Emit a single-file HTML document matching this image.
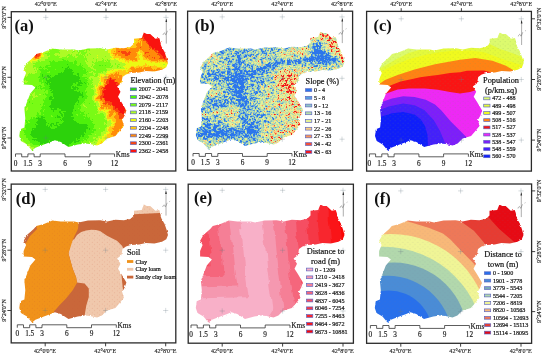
<!DOCTYPE html>
<html><head><meta charset="utf-8"><title>Figure</title>
<style>
html,body{margin:0;padding:0;background:#fff;}
svg{display:block;font-family:"Liberation Serif", "DejaVu Serif", serif;}
.c{font-size:6.1px;fill:#1c1c1c;stroke:#1c1c1c;stroke-width:0.14px;}
.l{font-size:6.1px;fill:#1a1a1a;stroke:#1a1a1a;stroke-width:0.22px;}
.t{font-size:8.3px;fill:#111;stroke:#111;stroke-width:0.2px;}
.p{font-size:16.5px;font-weight:bold;fill:#111;}
.s{font-size:7.3px;fill:#1a1a1a;stroke:#1a1a1a;stroke-width:0.15px;}
</style></head><body>
<svg width="543" height="354" viewBox="0 0 543 354">
<rect width="543" height="354" fill="#fff"/>
<defs>
<clipPath id="ol"><polygon points="12.6,56.8 15.9,50.9 22.7,45.0 25.3,41.9 32.9,39.9 41.4,36.5 49.8,37.4 63.4,37.4 67.6,38.5 77.0,36.5 89.2,36.2 96.0,37.4 104.4,35.7 112.9,36.2 119.7,34.8 123.0,31.4 123.0,26.7 130.7,26.0 132.9,20.4 135.8,22.1 139.2,22.1 144.3,26.7 148.2,26.0 149.3,28.9 150.2,34.0 153.6,39.9 155.6,45.8 157.0,50.9 155.3,55.2 151.0,57.7 143.4,59.4 134.9,58.9 128.2,60.6 119.7,61.1 115.0,62.5 111.5,65.0 110.4,71.3 106.1,74.6 109.5,79.7 107.0,84.8 110.4,89.9 115.4,98.4 113.7,103.5 111.2,107.9 112.9,113.8 108.7,118.9 104.4,124.0 96.0,126.5 90.9,131.6 86.0,133.5 79.0,132.0 73.6,131.6 66.8,132.4 57.5,135.0 49.8,129.9 43.9,128.2 39.7,129.9 32.9,132.4 24.4,135.8 21.0,138.4 16.0,132.4 10.0,129.0 8.3,124.0 9.2,117.2 13.4,115.5 14.3,106.2 13.4,96.7 16.0,89.9 19.3,81.4 24.4,75.5 21.0,73.0 12.6,72.6 12.6,67.0 15.1,61.1"/></clipPath>
<filter id="rag" filterUnits="userSpaceOnUse" x="0" y="0" width="170" height="165" color-interpolation-filters="sRGB"><feTurbulence type="fractalNoise" baseFrequency="0.55" numOctaves="1" seed="4" result="t"/><feDisplacementMap in="SourceGraphic" in2="t" scale="2.6" xChannelSelector="R" yChannelSelector="G"/></filter>
<mask id="om" maskUnits="userSpaceOnUse" x="0" y="0" width="170" height="165"><polygon points="12.6,56.8 15.9,50.9 22.7,45.0 25.3,41.9 32.9,39.9 41.4,36.5 49.8,37.4 63.4,37.4 67.6,38.5 77.0,36.5 89.2,36.2 96.0,37.4 104.4,35.7 112.9,36.2 119.7,34.8 123.0,31.4 123.0,26.7 130.7,26.0 132.9,20.4 135.8,22.1 139.2,22.1 144.3,26.7 148.2,26.0 149.3,28.9 150.2,34.0 153.6,39.9 155.6,45.8 157.0,50.9 155.3,55.2 151.0,57.7 143.4,59.4 134.9,58.9 128.2,60.6 119.7,61.1 115.0,62.5 111.5,65.0 110.4,71.3 106.1,74.6 109.5,79.7 107.0,84.8 110.4,89.9 115.4,98.4 113.7,103.5 111.2,107.9 112.9,113.8 108.7,118.9 104.4,124.0 96.0,126.5 90.9,131.6 86.0,133.5 79.0,132.0 73.6,131.6 66.8,132.4 57.5,135.0 49.8,129.9 43.9,128.2 39.7,129.9 32.9,132.4 24.4,135.8 21.0,138.4 16.0,132.4 10.0,129.0 8.3,124.0 9.2,117.2 13.4,115.5 14.3,106.2 13.4,96.7 16.0,89.9 19.3,81.4 24.4,75.5 21.0,73.0 12.6,72.6 12.6,67.0 15.1,61.1" fill="#fff" filter="url(#rag)"/></mask>
<pattern id="dots_d" width="5" height="4.4" patternUnits="userSpaceOnUse"><circle cx="1.2" cy="1.1" r="0.42" fill="rgba(200,70,50,0.38)"/><circle cx="3.7" cy="3.3" r="0.42" fill="rgba(200,70,50,0.38)"/></pattern><pattern id="dots_c" width="5" height="4.4" patternUnits="userSpaceOnUse"><circle cx="1.2" cy="1.1" r="0.42" fill="rgba(110,150,90,0.5)"/><circle cx="3.7" cy="3.3" r="0.42" fill="rgba(110,150,90,0.5)"/></pattern><pattern id="dots_f" width="5" height="4.4" patternUnits="userSpaceOnUse"><circle cx="1.2" cy="1.1" r="0.42" fill="rgba(120,110,150,0.3)"/><circle cx="3.7" cy="3.3" r="0.42" fill="rgba(120,110,150,0.3)"/></pattern>

<filter id="fa" filterUnits="userSpaceOnUse" x="0" y="0" width="170" height="165" color-interpolation-filters="sRGB"><feTurbulence type="fractalNoise" baseFrequency="0.08" numOctaves="3" seed="3" result="n0"/><feColorMatrix in="n0" type="matrix" values="1 0 0 0 0  1 0 0 0 0  1 0 0 0 0  0 0 0 0 1" result="g0"/><feComposite in="SourceGraphic" in2="g0" operator="arithmetic" k1="0" k2="1" k3="0.17" k4="-0.085" result="m0"/><feTurbulence type="fractalNoise" baseFrequency="0.45" numOctaves="2" seed="5" result="n1"/><feColorMatrix in="n1" type="matrix" values="1 0 0 0 0  1 0 0 0 0  1 0 0 0 0  0 0 0 0 1" result="g1"/><feComposite in="m0" in2="g1" operator="arithmetic" k1="0" k2="1" k3="0.1" k4="-0.05" result="m1"/><feComponentTransfer result="ct" in="m1"><feFuncR type="discrete" tableValues="0.176 0.176 0.306 0.478 0.686 0.922 1.000 1.000 0.980 0.980 0.980 0.980 0.980 0.980"/><feFuncG type="discrete" tableValues="0.824 0.824 0.949 0.988 0.988 0.980 0.784 0.549 0.275 0.078 0.078 0.078 0.078 0.078"/><feFuncB type="discrete" tableValues="0.047 0.047 0.047 0.086 0.149 0.078 0.078 0.039 0.059 0.059 0.059 0.059 0.059 0.059"/><feFuncA type="linear" slope="0" intercept="1"/></feComponentTransfer><feTurbulence type="fractalNoise" baseFrequency="0.5" numOctaves="2" seed="9" result="dn"/><feDisplacementMap in="ct" in2="dn" scale="3.5" xChannelSelector="R" yChannelSelector="G"/></filter>
<filter id="fb" filterUnits="userSpaceOnUse" x="0" y="0" width="170" height="165" color-interpolation-filters="sRGB"><feTurbulence type="fractalNoise" baseFrequency="0.62" numOctaves="1" seed="7" result="n0"/><feColorMatrix in="n0" type="matrix" values="1 0 0 0 0  1 0 0 0 0  1 0 0 0 0  0 0 0 0 1" result="g0"/><feComposite in="SourceGraphic" in2="g0" operator="arithmetic" k1="0" k2="1" k3="1.1" k4="-0.55" result="m0"/><feTurbulence type="fractalNoise" baseFrequency="0.3" numOctaves="2" seed="11" result="n1"/><feColorMatrix in="n1" type="matrix" values="1 0 0 0 0  1 0 0 0 0  1 0 0 0 0  0 0 0 0 1" result="g1"/><feComposite in="m0" in2="g1" operator="arithmetic" k1="0" k2="1" k3="0.9" k4="-0.45" result="m1"/><feComponentTransfer in="m1"><feFuncR type="discrete" tableValues="0.176 0.176 0.176 0.176 0.176 0.353 0.353 0.569 0.569 0.725 0.725 0.725 0.902 0.902 0.902 0.980 0.980 0.980 0.961 0.941"/><feFuncG type="discrete" tableValues="0.463 0.463 0.463 0.463 0.463 0.627 0.627 0.776 0.776 0.871 0.871 0.871 0.941 0.941 0.941 0.804 0.804 0.588 0.314 0.098"/><feFuncB type="discrete" tableValues="0.922 0.922 0.922 0.922 0.922 0.871 0.871 0.765 0.765 0.675 0.675 0.675 0.588 0.588 0.588 0.510 0.510 0.353 0.216 0.118"/><feFuncA type="linear" slope="0" intercept="1"/></feComponentTransfer><feGaussianBlur stdDeviation="0.45"/></filter>
<filter id="b07" filterUnits="userSpaceOnUse" x="-20" y="-20" width="210" height="200" color-interpolation-filters="sRGB"><feGaussianBlur stdDeviation="0.8"/></filter>
<filter id="b15" filterUnits="userSpaceOnUse" x="-20" y="-20" width="210" height="200" color-interpolation-filters="sRGB"><feGaussianBlur stdDeviation="1.5"/></filter>
<filter id="b2" filterUnits="userSpaceOnUse" x="-20" y="-20" width="210" height="200" color-interpolation-filters="sRGB"><feGaussianBlur stdDeviation="2"/></filter>
<filter id="b3" filterUnits="userSpaceOnUse" x="-20" y="-20" width="210" height="200" color-interpolation-filters="sRGB"><feGaussianBlur stdDeviation="3"/></filter>
<filter id="b5" filterUnits="userSpaceOnUse" x="-20" y="-20" width="210" height="200" color-interpolation-filters="sRGB"><feGaussianBlur stdDeviation="5"/></filter>
<filter id="b7" filterUnits="userSpaceOnUse" x="-20" y="-20" width="210" height="200" color-interpolation-filters="sRGB"><feGaussianBlur stdDeviation="7"/></filter>
<filter id="wig" filterUnits="userSpaceOnUse" x="0" y="0" width="170" height="165" color-interpolation-filters="sRGB"><feTurbulence type="fractalNoise" baseFrequency="0.07" numOctaves="3" seed="2" result="t"/><feDisplacementMap in="SourceGraphic" in2="t" scale="7" xChannelSelector="R" yChannelSelector="G"/></filter>
</defs>
<g transform="translate(11,12)" mask="url(#om)">
<g filter="url(#fa)">
<rect x="-10" y="-10" width="190" height="185" fill="rgb(68,68,68)"/>
<g filter="url(#b3)">
<polygon points="95.0,59.0 101.0,58.0 111.0,60.0 119.0,66.0 117.0,83.0 120.0,98.0 117.0,110.0 106.0,126.0 90.0,137.0 83.0,136.0 95.0,124.0 103.0,112.0 97.0,102.0 87.0,92.0 86.0,80.0 91.0,68.0" fill="rgb(128,128,128)"/>
<polygon points="99.0,34.0 123.0,33.0 123.0,24.0 134.0,17.0 153.0,23.0 163.0,52.0 149.0,66.0 119.0,64.0 111.0,54.0 101.0,48.0" fill="rgb(140,140,140)"/>
<polyline points="89.0,40.0 99.0,41.0" fill="none" stroke="rgb(92,92,92)" stroke-width="8" stroke-linejoin="round" stroke-linecap="round"/>
</g>
<g filter="url(#b3)">
<ellipse cx="27" cy="60" rx="7" ry="6" fill="rgb(82,82,82)"/>
<ellipse cx="35" cy="101" rx="10" ry="4" fill="rgb(79,79,79)"/>
<ellipse cx="79" cy="54" rx="8" ry="4" fill="rgb(79,79,79)"/>
<ellipse cx="82" cy="108" rx="6" ry="7" fill="rgb(79,79,79)"/>
<ellipse cx="73" cy="40" rx="16" ry="3" fill="rgb(79,79,79)"/>
<ellipse cx="19" cy="80" rx="4" ry="8" fill="rgb(79,79,79)"/>
<polyline points="12.0,60.0 16.0,50.0 23.0,44.0 33.0,39.0 47.0,37.0" fill="none" stroke="rgb(87,87,87)" stroke-width="3" stroke-linejoin="round" stroke-linecap="round"/>
<polyline points="12.0,67.0 12.5,58.0 15.5,51.5 21.0,46.5" fill="none" stroke="rgb(117,117,117)" stroke-width="3" stroke-linejoin="round" stroke-linecap="round"/>
<polyline points="25.0,45.0 31.0,44.0" fill="none" stroke="rgb(115,115,115)" stroke-width="5" stroke-linejoin="round" stroke-linecap="round"/>
<polyline points="11.0,122.0 9.0,130.0 17.0,138.0" fill="none" stroke="rgb(82,82,82)" stroke-width="3" stroke-linejoin="round" stroke-linecap="round"/>
<ellipse cx="19.5" cy="135.5" rx="3" ry="3" fill="rgb(112,112,112)"/>
<polyline points="114.0,102.0 113.0,112.0 107.0,121.0" fill="none" stroke="rgb(153,153,153)" stroke-width="4.5" stroke-linejoin="round" stroke-linecap="round"/>
<polyline points="107.0,121.0 98.0,130.0 88.0,136.0" fill="none" stroke="rgb(133,133,133)" stroke-width="4.5" stroke-linejoin="round" stroke-linecap="round"/>
<polyline points="117.0,61.0 149.0,60.0" fill="none" stroke="rgb(140,140,140)" stroke-width="4" stroke-linejoin="round" stroke-linecap="round"/>
<polyline points="103.0,50.0 115.0,52.0" fill="none" stroke="rgb(84,84,84)" stroke-width="8" stroke-linejoin="round" stroke-linecap="round"/>
</g>
<g filter="url(#b2)">
<polygon points="98.0,66.0 101.0,65.0 106.0,73.0 110.0,80.0 114.0,88.0 114.5,96.0 112.0,103.0 108.0,99.0 102.0,93.0 94.0,87.5 91.5,80.5 95.0,73.0" fill="rgb(204,204,204)"/>
<polygon points="131.0,23.0 133.0,18.0 139.0,21.0 150.0,25.0 153.0,36.0 158.0,48.0 156.0,51.0 151.0,44.0 146.0,38.0 140.0,35.0 136.0,30.0 131.0,26.0" fill="rgb(194,194,194)"/>
<polyline points="105.0,40.0 115.0,42.0" fill="none" stroke="rgb(158,158,158)" stroke-width="4" stroke-linejoin="round" stroke-linecap="round"/>
<polyline points="23.5,45.2 28.5,41.2" fill="none" stroke="rgb(242,242,242)" stroke-width="3.2" stroke-linejoin="round" stroke-linecap="round"/>
</g>
<g filter="url(#b3)">
<polygon points="27.0,52.0 45.0,48.0 59.0,47.0 73.0,56.0 79.0,72.0 75.0,88.0 73.0,100.0 81.0,110.0 79.0,122.0 67.0,134.0 53.0,139.0 33.0,134.0 17.0,128.0 16.0,116.0 25.0,104.0 29.0,90.0 25.0,74.0" fill="rgb(52,52,52)"/>
</g>
<g filter="url(#b3)">
<polygon points="54.3,53.6 56.0,60.7 68.8,64.5 70.0,68.4 59.9,73.4 58.6,78.5 68.8,79.8 68.8,86.0 63.7,92.5 61.2,98.9 62.4,109.0 73.9,111.6 77.7,115.4 71.3,121.8 66.3,125.6 59.9,132.0 57.3,135.8 54.8,137.0 51.0,132.0 44.6,126.9 34.4,129.4 24.3,125.6 17.9,123.0 20.5,116.7 29.4,111.6 37.0,112.9 40.8,116.7 47.2,114.2 53.5,109.0 54.3,98.9 51.0,96.3 44.6,97.6 40.8,95.0 39.5,90.0 43.4,86.2 42.0,78.5 39.5,73.4 39.0,67.0 42.0,64.5 47.2,63.3 51.0,59.5" fill="rgb(31,31,31)" stroke="rgb(31,31,31)" stroke-width="7" stroke-linejoin="round"/>
</g>
<g filter="url(#b07)">
<polygon points="54.3,53.6 56.0,60.7 68.8,64.5 70.0,68.4 59.9,73.4 58.6,78.5 68.8,79.8 68.8,86.0 63.7,92.5 61.2,98.9 62.4,109.0 73.9,111.6 77.7,115.4 71.3,121.8 66.3,125.6 59.9,132.0 57.3,135.8 54.8,137.0 51.0,132.0 44.6,126.9 34.4,129.4 24.3,125.6 17.9,123.0 20.5,116.7 29.4,111.6 37.0,112.9 40.8,116.7 47.2,114.2 53.5,109.0 54.3,98.9 51.0,96.3 44.6,97.6 40.8,95.0 39.5,90.0 43.4,86.2 42.0,78.5 39.5,73.4 39.0,67.0 42.0,64.5 47.2,63.3 51.0,59.5" fill="rgb(10,10,10)" stroke="rgb(51,51,51)" stroke-width="1.6" stroke-linejoin="round"/>
</g>
<g filter="url(#b15)">
<polyline points="99.0,78.0 92.0,76.0 86.0,77.0" fill="none" stroke="rgb(158,158,158)" stroke-width="2.6" stroke-linejoin="round" stroke-linecap="round"/>
<polyline points="99.0,84.0 91.0,85.0 84.0,87.0" fill="none" stroke="rgb(158,158,158)" stroke-width="2.6" stroke-linejoin="round" stroke-linecap="round"/>
<polyline points="101.0,90.0 94.0,93.0 89.0,97.0" fill="none" stroke="rgb(153,153,153)" stroke-width="2.6" stroke-linejoin="round" stroke-linecap="round"/>
<polyline points="98.0,72.0 93.0,68.0 90.0,64.0" fill="none" stroke="rgb(148,148,148)" stroke-width="2.6" stroke-linejoin="round" stroke-linecap="round"/>
<polyline points="105.0,96.0 100.0,101.0 97.0,106.0" fill="none" stroke="rgb(148,148,148)" stroke-width="2.6" stroke-linejoin="round" stroke-linecap="round"/>
<polyline points="113.0,108.0 106.0,107.0 101.0,105.0" fill="none" stroke="rgb(133,133,133)" stroke-width="2.4" stroke-linejoin="round" stroke-linecap="round"/>
<polyline points="109.0,118.0 102.0,116.0 97.0,117.0" fill="none" stroke="rgb(128,128,128)" stroke-width="2.4" stroke-linejoin="round" stroke-linecap="round"/>
<polyline points="101.0,127.0 95.0,124.0 91.0,125.0" fill="none" stroke="rgb(117,117,117)" stroke-width="2.4" stroke-linejoin="round" stroke-linecap="round"/>
<polyline points="103.0,66.0 107.0,61.0 113.0,60.0" fill="none" stroke="rgb(128,128,128)" stroke-width="3" stroke-linejoin="round" stroke-linecap="round"/>
<polyline points="129.0,41.0 130.0,48.0 139.0,52.0 156.0,53.0" fill="none" stroke="rgb(99,99,99)" stroke-width="6.5" stroke-linejoin="round" stroke-linecap="round"/>
<polyline points="117.0,52.0 129.0,52.0" fill="none" stroke="rgb(99,99,99)" stroke-width="5" stroke-linejoin="round" stroke-linecap="round"/>
</g>
</g></g>
<g transform="translate(187.5,11)" mask="url(#om)">
<g filter="url(#fb)">
<rect x="-10" y="-10" width="190" height="185" fill="rgb(115,115,115)"/>
<g filter="url(#b5)">
<polygon points="4.0,38.0 89.0,32.0 93.0,58.0 85.0,88.0 77.0,138.0 4.0,143.0" fill="rgb(102,102,102)"/>
<polygon points="87.0,46.0 123.0,34.0 134.0,17.0 153.0,23.0 163.0,52.0 119.0,64.0 119.0,98.0 115.0,114.0 103.0,130.0 87.0,138.0 79.0,136.0 86.0,110.0 83.0,88.0 85.0,66.0" fill="rgb(161,161,161)"/>
</g>
<g filter="url(#b3)">
<ellipse cx="27" cy="52" rx="11" ry="6" fill="rgb(158,158,158)"/>
<ellipse cx="73" cy="52" rx="12" ry="6" fill="rgb(158,158,158)"/>
<ellipse cx="25" cy="80" rx="9" ry="8" fill="rgb(153,153,153)"/>
<polygon points="31.5,98.0 53.0,97.0 53.0,122.0 41.0,116.0" fill="rgb(158,158,158)"/>
<ellipse cx="81" cy="88" rx="10" ry="14" fill="rgb(153,153,153)"/>
<ellipse cx="81" cy="120" rx="12" ry="8" fill="rgb(153,153,153)"/>
<polygon points="90.0,63.0 97.0,60.0 107.0,62.0 109.0,74.0 107.0,82.0 99.0,82.0 92.0,76.0" fill="rgb(219,219,219)"/>
<polyline points="99.0,84.0 107.0,92.0 111.0,98.0" fill="none" stroke="rgb(204,204,204)" stroke-width="7" stroke-linejoin="round" stroke-linecap="round"/>
<polyline points="111.0,98.0 112.0,110.0 106.0,118.0" fill="none" stroke="rgb(204,204,204)" stroke-width="5" stroke-linejoin="round" stroke-linecap="round"/>
<ellipse cx="105" cy="122" rx="5" ry="4" fill="rgb(224,224,224)"/>
<polyline points="106.0,118.0 95.0,130.0 85.0,135.0" fill="none" stroke="rgb(194,194,194)" stroke-width="5" stroke-linejoin="round" stroke-linecap="round"/>
<polyline points="91.0,48.0 103.0,44.0 119.0,38.0" fill="none" stroke="rgb(189,189,189)" stroke-width="6" stroke-linejoin="round" stroke-linecap="round"/>
<polyline points="123.0,30.0 133.0,20.0 139.0,23.0 147.0,26.0 152.0,36.0 157.0,50.0" fill="none" stroke="rgb(204,204,204)" stroke-width="6" stroke-linejoin="round" stroke-linecap="round"/>
<polyline points="139.0,26.0 145.0,38.0" fill="none" stroke="rgb(214,214,214)" stroke-width="7" stroke-linejoin="round" stroke-linecap="round"/>
<polyline points="13.0,132.0 44.0,135.0" fill="none" stroke="rgb(173,173,173)" stroke-width="5" stroke-linejoin="round" stroke-linecap="round"/>
<polyline points="81.0,128.0 93.0,125.0" fill="none" stroke="rgb(184,184,184)" stroke-width="4" stroke-linejoin="round" stroke-linecap="round"/>
</g>
<g filter="url(#b2)">
<ellipse cx="51.5" cy="68" rx="8" ry="7" fill="rgb(31,31,31)"/>
<polyline points="51.5,45.0 51.5,64.0" fill="none" stroke="rgb(31,31,31)" stroke-width="4" stroke-linejoin="round" stroke-linecap="round"/>
<polyline points="24.0,61.0 45.0,68.0" fill="none" stroke="rgb(41,41,41)" stroke-width="4" stroke-linejoin="round" stroke-linecap="round"/>
<polyline points="59.0,64.0 77.0,57.0 93.0,51.0 111.0,50.0 123.0,50.0" fill="none" stroke="rgb(26,26,26)" stroke-width="5" stroke-linejoin="round" stroke-linecap="round"/>
<polyline points="51.0,73.0 50.0,80.0 55.0,90.0" fill="none" stroke="rgb(26,26,26)" stroke-width="9" stroke-linejoin="round" stroke-linecap="round"/>
<polyline points="55.0,90.0 56.5,121.0" fill="none" stroke="rgb(36,36,36)" stroke-width="3.5" stroke-linejoin="round" stroke-linecap="round"/>
<ellipse cx="64.5" cy="119" rx="5" ry="9" fill="rgb(36,36,36)"/>
<ellipse cx="32" cy="92" rx="11" ry="5" fill="rgb(76,76,76)"/>
<polyline points="13.0,122.0 31.0,121.0 49.0,122.0" fill="none" stroke="rgb(41,41,41)" stroke-width="9" stroke-linejoin="round" stroke-linecap="round"/>
<polyline points="17.0,108.0 25.0,118.0" fill="none" stroke="rgb(51,51,51)" stroke-width="4" stroke-linejoin="round" stroke-linecap="round"/>
<polygon points="125.0,32.0 133.0,30.0 137.0,40.0 147.0,46.0 153.0,52.0 129.0,54.0 119.0,52.0 124.0,42.0" fill="rgb(41,41,41)"/>
</g>
<g filter="url(#b15)">
<ellipse cx="22.5" cy="43.5" rx="3.5" ry="2.2" fill="rgb(242,242,242)"/>
<polyline points="16.0,104.4 33.0,101.0 50.0,96.8" fill="none" stroke="rgb(219,219,219)" stroke-width="2.2" stroke-linejoin="round" stroke-linecap="round"/>
</g>
</g></g>
<g transform="translate(366.7,12)" mask="url(#om)">
<rect x="0" y="0" width="170" height="165" fill="#dcfa6e"/>
<polygon points="-26.7,83.0 5.3,63.0 13.9,56.2 30.9,46.6 42.2,41.0 50.1,38.7 63.3,34.0 83.3,28.0 103.3,26.0 122.3,31.7 133.3,37.0 145.3,41.0 154.3,44.4 168.3,52.0 193.3,68.0 193.3,188.0 -26.7,188.0" fill="#e4fa3c"/>
<polygon points="-26.7,88.0 5.3,66.0 12.8,60.8 25.3,54.0 42.2,47.2 59.1,42.7 73.3,40.2 88.3,38.5 103.3,38.5 117.3,40.2 134.1,46.5 151.1,52.0 156.3,53.8 173.3,60.0 193.3,73.0 193.3,188.0 -26.7,188.0" fill="#f0fa1e"/>
<polygon points="-26.7,98.0 3.3,78.0 11.8,72.6 18.3,68.0 30.9,63.0 47.8,57.4 68.3,52.3 93.3,47.8 108.7,46.1 125.7,48.7 139.3,53.8 147.7,58.8 158.3,68.0 173.3,83.0 173.3,188.0 -26.7,188.0" fill="#ff8214"/>
<polygon points="-26.7,108.0 13.3,80.0 23.6,73.4 33.8,69.5 45.7,67.0 53.5,65.3 62.6,63.9 71.1,63.0 83.3,61.0 93.3,60.3 100.3,58.8 117.3,58.5 122.3,59.7 133.3,64.0 143.3,72.0 153.3,83.0 153.3,188.0 -26.7,188.0" fill="#fa1414"/>
<polygon points="-26.7,98.0 13.3,85.0 19.6,81.5 30.9,77.5 42.2,76.4 58.3,76.4 71.1,77.7 83.3,80.0 93.3,81.5 103.3,80.0 113.3,77.0 133.3,72.0 153.3,70.0 153.3,188.0 -26.7,188.0" fill="#ee28f5"/>
<polygon points="-26.7,103.0 8.3,92.5 15.1,90.0 25.3,86.6 36.5,84.3 47.8,84.9 59.1,87.7 68.3,92.5 74.7,98.6 84.1,109.4 93.4,118.8 99.6,125.0 103.3,130.0 113.3,148.0 123.3,188.0 123.3,188.0 -26.7,188.0" fill="#7d1efa"/>
<polygon points="-26.7,108.0 12.8,97.9 21.9,94.5 36.5,91.6 47.8,93.3 57.6,98.0 67.0,107.9 73.2,118.8 77.1,128.1 79.3,134.0 81.3,148.0 83.3,188.0 83.3,188.0 -26.7,188.0" fill="#4420fa"/>
<polygon points="-26.7,113.0 15.1,104.6 25.3,101.2 36.5,100.1 47.8,102.4 54.1,107.5 58.3,114.0 60.8,123.0 61.3,134.0 61.3,148.0 61.3,188.0 61.3,188.0 -26.7,188.0" fill="#0f1efa"/>
<rect x="0" y="0" width="170" height="165" fill="url(#dots_c)"/>
</g>
<g transform="translate(11,184)" mask="url(#om)">
<rect x="0" y="0" width="170" height="165" fill="#c9673a"/>
<polygon points="63.4,55.0 66.0,51.0 70.2,48.0 75.0,46.5 80.4,45.8 85.0,46.0 89.0,47.0 96.0,51.8 106.0,56.8 111.2,61.9 113.0,66.0 119.0,66.0 119.0,89.0 110.4,89.9 111.2,98.4 112.0,106.0 119.0,108.0 119.0,146.0 73.6,146.0 73.6,131.6 75.3,121.4 77.8,113.0 77.8,104.5 73.6,99.6 66.0,98.4 65.1,93.3 61.7,84.8 57.5,69.6 59.0,61.0 61.7,56.0" fill="#f0c8ac"/>
<polygon points="-1.0,16.0 67.6,16.0 67.6,38.5 67.0,45.0 64.5,50.0 61.7,56.0 57.5,69.6 61.7,84.8 65.1,93.3 66.0,98.8 61.7,106.2 55.0,114.6 48.2,121.4 43.0,127.4 39.0,146.0 -1.0,146.0" fill="#f0921a"/>
<polygon points="9.0,61.0 13.0,49.0 25.0,41.0 26.0,45.0 19.0,52.0 15.0,59.0" fill="#c9673a"/>
<polygon points="119.0,16.0 154.0,16.0 154.0,28.8 123.0,30.2 119.0,30.2" fill="#f0c8ac"/>
<rect x="0" y="0" width="170" height="165" fill="url(#dots_d)"/>
</g>
<g transform="translate(187.5,184)" mask="url(#om)">
<g filter="url(#wig)">
<rect x="-10" y="-10" width="190" height="185" fill="#fa0505"/>
<polyline points="64.0,6.0 64.3,40.0 66.5,61.0 68.6,84.0 72.9,118.0 73.7,124.0 48.5,124.4 2.5,125.5" fill="none" stroke="#fa1418" stroke-width="176.0" stroke-linejoin="round" stroke-linecap="round"/>
<polyline points="64.0,6.0 64.3,40.0 66.5,61.0 68.6,84.0 72.9,118.0 73.7,124.0 48.5,124.4 2.5,125.5" fill="none" stroke="#f8262e" stroke-width="154.0" stroke-linejoin="round" stroke-linecap="round"/>
<polyline points="64.0,6.0 64.3,40.0 66.5,61.0 68.6,84.0 72.9,118.0 73.7,124.0 48.5,124.4 2.5,125.5" fill="none" stroke="#f53846" stroke-width="132.0" stroke-linejoin="round" stroke-linecap="round"/>
<polyline points="64.0,6.0 64.3,40.0 66.5,61.0 68.6,84.0 72.9,118.0 73.7,124.0 48.5,124.4 2.5,125.5" fill="none" stroke="#f54e62" stroke-width="110.0" stroke-linejoin="round" stroke-linecap="round"/>
<polyline points="64.0,6.0 64.3,40.0 66.5,61.0 68.6,84.0 72.9,118.0 73.7,124.0 48.5,124.4 2.5,125.5" fill="none" stroke="#f5667c" stroke-width="88.0" stroke-linejoin="round" stroke-linecap="round"/>
<polyline points="64.0,6.0 64.3,40.0 66.5,61.0 68.6,84.0 72.9,118.0 73.7,124.0 48.5,124.4 2.5,125.5" fill="none" stroke="#f57f96" stroke-width="66.0" stroke-linejoin="round" stroke-linecap="round"/>
<polyline points="64.0,6.0 64.3,40.0 66.5,61.0 68.6,84.0 72.9,118.0 73.7,124.0 48.5,124.4 2.5,125.5" fill="none" stroke="#f598b0" stroke-width="44.0" stroke-linejoin="round" stroke-linecap="round"/>
<polyline points="64.0,6.0 64.3,40.0 66.5,61.0 68.6,84.0 72.9,118.0 73.7,124.0 48.5,124.4 2.5,125.5" fill="none" stroke="#f8b0c8" stroke-width="22.0" stroke-linejoin="round" stroke-linecap="round"/>
</g>
</g>
<g transform="translate(366.5,184)" mask="url(#om)">
<rect x="0" y="0" width="170" height="165" fill="#e60a14"/>
<polygon points="103.5,6.0 122.7,34.0 132.8,45.0 144.7,55.2 148.1,58.5 163.5,72.0 163.5,176.0 -26.5,176.0 -26.5,6.0" fill="#e63c32"/>
<polygon points="73.5,6.0 95.5,38.2 107.4,46.7 117.5,58.5 119.3,62.0 128.5,78.0 128.5,176.0 -26.5,176.0 -26.5,6.0" fill="#ee7858"/>
<polygon points="13.5,31.0 40.8,37.2 62.8,44.0 76.5,49.5 83.7,55.2 91.5,63.5 102.3,74.6 107.4,79.7 115.5,91.0 115.5,176.0 -26.5,176.0 -26.5,31.0" fill="#f8b878"/>
<circle cx="24.3" cy="148.3" r="98.4" fill="#f0f596"/>
<circle cx="17.1" cy="163.8" r="101.0" fill="#b2d8ac"/>
<circle cx="27.2" cy="152.3" r="73.7" fill="#7aaab6"/>
<circle cx="20.9" cy="157.1" r="65.3" fill="#4a8cd6"/>
<circle cx="22.0" cy="150.4" r="43.9" fill="#2870eb"/>
<rect x="0" y="0" width="170" height="165" fill="url(#dots_f)"/>
</g>
<rect x="11.3" y="11.7" width="164.5" height="159.3" fill="none" stroke="#2a2a2a" stroke-width="1.3"/>
<rect x="187.6" y="11.2" width="165.00000000000003" height="159.0" fill="none" stroke="#2a2a2a" stroke-width="1.3"/>
<rect x="366.6" y="11.4" width="164.79999999999995" height="159.7" fill="none" stroke="#2a2a2a" stroke-width="1.3"/>
<rect x="11.2" y="184.1" width="164.60000000000002" height="158.79999999999998" fill="none" stroke="#2a2a2a" stroke-width="1.3"/>
<rect x="188.2" y="184.2" width="165.2" height="159.0" fill="none" stroke="#2a2a2a" stroke-width="1.3"/>
<rect x="366.6" y="184" width="165.0" height="159.3" fill="none" stroke="#2a2a2a" stroke-width="1.3"/>
<path d="M43.2 17.4h5.2M45.8 14.8v5.2" stroke="rgba(105,125,135,0.5)" stroke-width="0.55" fill="none"/>
<path d="M43.2 77.3h5.2M45.8 74.7v5.2" stroke="rgba(105,125,135,0.5)" stroke-width="0.55" fill="none"/>
<path d="M43.2 138.0h5.2M45.8 135.4v5.2" stroke="rgba(105,125,135,0.5)" stroke-width="0.55" fill="none"/>
<path d="M103.4 17.4h5.2M106.0 14.8v5.2" stroke="rgba(105,125,135,0.5)" stroke-width="0.55" fill="none"/>
<path d="M103.4 77.3h5.2M106.0 74.7v5.2" stroke="rgba(105,125,135,0.5)" stroke-width="0.55" fill="none"/>
<path d="M103.4 138.0h5.2M106.0 135.4v5.2" stroke="rgba(105,125,135,0.5)" stroke-width="0.55" fill="none"/>
<path d="M163.4 17.4h5.2M166.0 14.8v5.2" stroke="rgba(105,125,135,0.5)" stroke-width="0.55" fill="none"/>
<path d="M163.4 77.3h5.2M166.0 74.7v5.2" stroke="rgba(105,125,135,0.5)" stroke-width="0.55" fill="none"/>
<path d="M163.4 138.0h5.2M166.0 135.4v5.2" stroke="rgba(105,125,135,0.5)" stroke-width="0.55" fill="none"/>
<path d="M45.8 11.7v-3.2" stroke="#2a2a2a" stroke-width="0.9"/>
<text class="c" x="45.8" y="6.4" text-anchor="middle">42°0'0"E</text>
<path d="M106.0 11.7v-3.2" stroke="#2a2a2a" stroke-width="0.9"/>
<text class="c" x="106.0" y="6.4" text-anchor="middle">42°4'0"E</text>
<path d="M166.0 11.7v-3.2" stroke="#2a2a2a" stroke-width="0.9"/>
<text class="c" x="166.0" y="6.4" text-anchor="middle">42°8'0"E</text>
<path d="M11.3 17.4h-3.8" stroke="#2a2a2a" stroke-width="0.9"/>
<text class="c" transform="translate(5.8,17.4) rotate(-90)" text-anchor="middle">9°32'0"N</text>
<path d="M11.3 77.3h-3.8" stroke="#2a2a2a" stroke-width="0.9"/>
<text class="c" transform="translate(5.8,77.3) rotate(-90)" text-anchor="middle">9°28'0"N</text>
<path d="M11.3 138.0h-3.8" stroke="#2a2a2a" stroke-width="0.9"/>
<text class="c" transform="translate(5.8,138.0) rotate(-90)" text-anchor="middle">9°24'0"N</text>
<path d="M219.6 16.9h5.2M222.2 14.3v5.2" stroke="rgba(105,125,135,0.5)" stroke-width="0.55" fill="none"/>
<path d="M219.6 78.3h5.2M222.2 75.7v5.2" stroke="rgba(105,125,135,0.5)" stroke-width="0.55" fill="none"/>
<path d="M219.6 139.2h5.2M222.2 136.6v5.2" stroke="rgba(105,125,135,0.5)" stroke-width="0.55" fill="none"/>
<path d="M279.7 16.9h5.2M282.3 14.3v5.2" stroke="rgba(105,125,135,0.5)" stroke-width="0.55" fill="none"/>
<path d="M279.7 78.3h5.2M282.3 75.7v5.2" stroke="rgba(105,125,135,0.5)" stroke-width="0.55" fill="none"/>
<path d="M279.7 139.2h5.2M282.3 136.6v5.2" stroke="rgba(105,125,135,0.5)" stroke-width="0.55" fill="none"/>
<path d="M339.4 16.9h5.2M342.0 14.3v5.2" stroke="rgba(105,125,135,0.5)" stroke-width="0.55" fill="none"/>
<path d="M339.4 78.3h5.2M342.0 75.7v5.2" stroke="rgba(105,125,135,0.5)" stroke-width="0.55" fill="none"/>
<path d="M339.4 139.2h5.2M342.0 136.6v5.2" stroke="rgba(105,125,135,0.5)" stroke-width="0.55" fill="none"/>
<path d="M222.2 11.2v-3.2" stroke="#2a2a2a" stroke-width="0.9"/>
<text class="c" x="222.2" y="6.4" text-anchor="middle">42°0'0"E</text>
<path d="M282.3 11.2v-3.2" stroke="#2a2a2a" stroke-width="0.9"/>
<text class="c" x="282.3" y="6.4" text-anchor="middle">42°4'0"E</text>
<path d="M342.0 11.2v-3.2" stroke="#2a2a2a" stroke-width="0.9"/>
<text class="c" x="342.0" y="6.4" text-anchor="middle">42°8'0"E</text>
<path d="M398.6 18.8h5.2M401.2 16.2v5.2" stroke="rgba(105,125,135,0.5)" stroke-width="0.55" fill="none"/>
<path d="M398.6 79.5h5.2M401.2 76.9v5.2" stroke="rgba(105,125,135,0.5)" stroke-width="0.55" fill="none"/>
<path d="M398.6 140.1h5.2M401.2 137.5v5.2" stroke="rgba(105,125,135,0.5)" stroke-width="0.55" fill="none"/>
<path d="M458.8 18.8h5.2M461.4 16.2v5.2" stroke="rgba(105,125,135,0.5)" stroke-width="0.55" fill="none"/>
<path d="M458.8 79.5h5.2M461.4 76.9v5.2" stroke="rgba(105,125,135,0.5)" stroke-width="0.55" fill="none"/>
<path d="M458.8 140.1h5.2M461.4 137.5v5.2" stroke="rgba(105,125,135,0.5)" stroke-width="0.55" fill="none"/>
<path d="M518.7 18.8h5.2M521.3 16.2v5.2" stroke="rgba(105,125,135,0.5)" stroke-width="0.55" fill="none"/>
<path d="M518.7 79.5h5.2M521.3 76.9v5.2" stroke="rgba(105,125,135,0.5)" stroke-width="0.55" fill="none"/>
<path d="M518.7 140.1h5.2M521.3 137.5v5.2" stroke="rgba(105,125,135,0.5)" stroke-width="0.55" fill="none"/>
<path d="M401.2 11.4v-3.2" stroke="#2a2a2a" stroke-width="0.9"/>
<text class="c" x="401.2" y="6.4" text-anchor="middle">42°0'0"E</text>
<path d="M461.4 11.4v-3.2" stroke="#2a2a2a" stroke-width="0.9"/>
<text class="c" x="461.4" y="6.4" text-anchor="middle">42°4'0"E</text>
<path d="M521.3 11.4v-3.2" stroke="#2a2a2a" stroke-width="0.9"/>
<text class="c" x="521.3" y="6.4" text-anchor="middle">42°8'0"E</text>
<path d="M531.4 18.8h3.6" stroke="#2a2a2a" stroke-width="0.9"/>
<text class="c" transform="translate(540.8,18.8) rotate(-90)" text-anchor="middle">9°32'0"N</text>
<path d="M531.4 79.5h3.6" stroke="#2a2a2a" stroke-width="0.9"/>
<text class="c" transform="translate(540.8,79.5) rotate(-90)" text-anchor="middle">9°28'0"N</text>
<path d="M531.4 140.1h3.6" stroke="#2a2a2a" stroke-width="0.9"/>
<text class="c" transform="translate(540.8,140.1) rotate(-90)" text-anchor="middle">9°24'0"N</text>
<path d="M42.6 189.4h5.2M45.2 186.8v5.2" stroke="rgba(105,125,135,0.5)" stroke-width="0.55" fill="none"/>
<path d="M42.6 250.2h5.2M45.2 247.6v5.2" stroke="rgba(105,125,135,0.5)" stroke-width="0.55" fill="none"/>
<path d="M42.6 310.5h5.2M45.2 307.9v5.2" stroke="rgba(105,125,135,0.5)" stroke-width="0.55" fill="none"/>
<path d="M103.0 189.4h5.2M105.6 186.8v5.2" stroke="rgba(105,125,135,0.5)" stroke-width="0.55" fill="none"/>
<path d="M103.0 250.2h5.2M105.6 247.6v5.2" stroke="rgba(105,125,135,0.5)" stroke-width="0.55" fill="none"/>
<path d="M103.0 310.5h5.2M105.6 307.9v5.2" stroke="rgba(105,125,135,0.5)" stroke-width="0.55" fill="none"/>
<path d="M163.1 189.4h5.2M165.7 186.8v5.2" stroke="rgba(105,125,135,0.5)" stroke-width="0.55" fill="none"/>
<path d="M163.1 250.2h5.2M165.7 247.6v5.2" stroke="rgba(105,125,135,0.5)" stroke-width="0.55" fill="none"/>
<path d="M163.1 310.5h5.2M165.7 307.9v5.2" stroke="rgba(105,125,135,0.5)" stroke-width="0.55" fill="none"/>
<path d="M45.2 342.9v3.4" stroke="#2a2a2a" stroke-width="0.9"/>
<text class="c" x="44.9" y="353.0" text-anchor="middle">42°0'0"E</text>
<path d="M105.6 342.9v3.4" stroke="#2a2a2a" stroke-width="0.9"/>
<text class="c" x="105.3" y="353.0" text-anchor="middle">42°4'0"E</text>
<path d="M165.7 342.9v3.4" stroke="#2a2a2a" stroke-width="0.9"/>
<text class="c" x="165.4" y="353.0" text-anchor="middle">42°8'0"E</text>
<path d="M11.2 189.4h-3.8" stroke="#2a2a2a" stroke-width="0.9"/>
<text class="c" transform="translate(5.8,189.4) rotate(-90)" text-anchor="middle">9°32'0"N</text>
<path d="M11.2 250.2h-3.8" stroke="#2a2a2a" stroke-width="0.9"/>
<text class="c" transform="translate(5.8,250.2) rotate(-90)" text-anchor="middle">9°28'0"N</text>
<path d="M11.2 310.5h-3.8" stroke="#2a2a2a" stroke-width="0.9"/>
<text class="c" transform="translate(5.8,310.5) rotate(-90)" text-anchor="middle">9°24'0"N</text>
<path d="M219.6 190.3h5.2M222.2 187.7v5.2" stroke="rgba(105,125,135,0.5)" stroke-width="0.55" fill="none"/>
<path d="M219.6 250.3h5.2M222.2 247.7v5.2" stroke="rgba(105,125,135,0.5)" stroke-width="0.55" fill="none"/>
<path d="M219.6 311.0h5.2M222.2 308.4v5.2" stroke="rgba(105,125,135,0.5)" stroke-width="0.55" fill="none"/>
<path d="M280.0 190.3h5.2M282.6 187.7v5.2" stroke="rgba(105,125,135,0.5)" stroke-width="0.55" fill="none"/>
<path d="M280.0 250.3h5.2M282.6 247.7v5.2" stroke="rgba(105,125,135,0.5)" stroke-width="0.55" fill="none"/>
<path d="M280.0 311.0h5.2M282.6 308.4v5.2" stroke="rgba(105,125,135,0.5)" stroke-width="0.55" fill="none"/>
<path d="M340.4 190.3h5.2M343.0 187.7v5.2" stroke="rgba(105,125,135,0.5)" stroke-width="0.55" fill="none"/>
<path d="M340.4 250.3h5.2M343.0 247.7v5.2" stroke="rgba(105,125,135,0.5)" stroke-width="0.55" fill="none"/>
<path d="M340.4 311.0h5.2M343.0 308.4v5.2" stroke="rgba(105,125,135,0.5)" stroke-width="0.55" fill="none"/>
<path d="M222.2 343.2v3.4" stroke="#2a2a2a" stroke-width="0.9"/>
<text class="c" x="221.9" y="353.0" text-anchor="middle">42°0'0"E</text>
<path d="M282.6 343.2v3.4" stroke="#2a2a2a" stroke-width="0.9"/>
<text class="c" x="282.3" y="353.0" text-anchor="middle">42°4'0"E</text>
<path d="M343.0 343.2v3.4" stroke="#2a2a2a" stroke-width="0.9"/>
<text class="c" x="342.7" y="353.0" text-anchor="middle">42°8'0"E</text>
<path d="M398.2 190.9h5.2M400.8 188.3v5.2" stroke="rgba(105,125,135,0.5)" stroke-width="0.55" fill="none"/>
<path d="M398.2 251.6h5.2M400.8 249.0v5.2" stroke="rgba(105,125,135,0.5)" stroke-width="0.55" fill="none"/>
<path d="M398.2 311.6h5.2M400.8 309.0v5.2" stroke="rgba(105,125,135,0.5)" stroke-width="0.55" fill="none"/>
<path d="M458.0 190.9h5.2M460.6 188.3v5.2" stroke="rgba(105,125,135,0.5)" stroke-width="0.55" fill="none"/>
<path d="M458.0 251.6h5.2M460.6 249.0v5.2" stroke="rgba(105,125,135,0.5)" stroke-width="0.55" fill="none"/>
<path d="M458.0 311.6h5.2M460.6 309.0v5.2" stroke="rgba(105,125,135,0.5)" stroke-width="0.55" fill="none"/>
<path d="M518.4 190.9h5.2M521.0 188.3v5.2" stroke="rgba(105,125,135,0.5)" stroke-width="0.55" fill="none"/>
<path d="M518.4 251.6h5.2M521.0 249.0v5.2" stroke="rgba(105,125,135,0.5)" stroke-width="0.55" fill="none"/>
<path d="M518.4 311.6h5.2M521.0 309.0v5.2" stroke="rgba(105,125,135,0.5)" stroke-width="0.55" fill="none"/>
<path d="M400.8 343.3v3.4" stroke="#2a2a2a" stroke-width="0.9"/>
<text class="c" x="400.5" y="353.0" text-anchor="middle">42°0'0"E</text>
<path d="M460.6 343.3v3.4" stroke="#2a2a2a" stroke-width="0.9"/>
<text class="c" x="460.3" y="353.0" text-anchor="middle">42°4'0"E</text>
<path d="M521.0 343.3v3.4" stroke="#2a2a2a" stroke-width="0.9"/>
<text class="c" x="520.7" y="353.0" text-anchor="middle">42°8'0"E</text>
<path d="M531.6 190.9h3.6" stroke="#2a2a2a" stroke-width="0.9"/>
<text class="c" transform="translate(540.8,190.9) rotate(-90)" text-anchor="middle">9°32'0"N</text>
<path d="M531.6 251.6h3.6" stroke="#2a2a2a" stroke-width="0.9"/>
<text class="c" transform="translate(540.8,251.6) rotate(-90)" text-anchor="middle">9°28'0"N</text>
<path d="M531.6 311.6h3.6" stroke="#2a2a2a" stroke-width="0.9"/>
<text class="c" transform="translate(540.8,311.6) rotate(-90)" text-anchor="middle">9°24'0"N</text>
<text class="p" x="14.4" y="30.8">(a)</text>
<text class="p" x="194.7" y="31.2">(b)</text>
<text class="p" x="373.4" y="31.2">(c)</text>
<text class="p" x="15.7" y="203.6">(d)</text>
<text class="p" x="193.9" y="203.2">(e)</text>
<text class="p" x="374.3" y="203.6">(f)</text>
<g stroke="#6a6a6a" stroke-width="0.55" fill="none"><path d="M166.3 19.8v23.8"/><path d="M163.0 35.0c0.3 -1.6 1.5 -2.6 2 -1.6 c0.5 1 0.4 1.8 0.9 1.2 l1.6 -3.8" stroke-width="0.5"/><path d="M169.7 29.6l0.7 -0.4" stroke-width="0.6"/></g><path d="M166.3 18.4l-0.85 3.6h1.7z" fill="#2a2a2a"/>
<g stroke="#6a6a6a" stroke-width="0.55" fill="none"><path d="M342.3 19.3v23.8"/><path d="M339.0 34.5c0.3 -1.6 1.5 -2.6 2 -1.6 c0.5 1 0.4 1.8 0.9 1.2 l1.6 -3.8" stroke-width="0.5"/><path d="M345.7 29.1l0.7 -0.4" stroke-width="0.6"/></g><path d="M342.3 17.9l-0.85 3.6h1.7z" fill="#2a2a2a"/>
<g stroke="#6a6a6a" stroke-width="0.55" fill="none"><path d="M521.6 21.2v23.8"/><path d="M518.3 36.4c0.3 -1.6 1.5 -2.6 2 -1.6 c0.5 1 0.4 1.8 0.9 1.2 l1.6 -3.8" stroke-width="0.5"/><path d="M525.0 31.0l0.7 -0.4" stroke-width="0.6"/></g><path d="M521.6 19.8l-0.85 3.6h1.7z" fill="#2a2a2a"/>
<g stroke="#6a6a6a" stroke-width="0.55" fill="none"><path d="M166.0 191.8v23.8"/><path d="M162.7 207.0c0.3 -1.6 1.5 -2.6 2 -1.6 c0.5 1 0.4 1.8 0.9 1.2 l1.6 -3.8" stroke-width="0.5"/><path d="M169.4 201.6l0.7 -0.4" stroke-width="0.6"/></g><path d="M166.0 190.4l-0.85 3.6h1.7z" fill="#2a2a2a"/>
<g stroke="#6a6a6a" stroke-width="0.55" fill="none"><path d="M343.3 192.7v23.8"/><path d="M340.0 207.9c0.3 -1.6 1.5 -2.6 2 -1.6 c0.5 1 0.4 1.8 0.9 1.2 l1.6 -3.8" stroke-width="0.5"/><path d="M346.7 202.5l0.7 -0.4" stroke-width="0.6"/></g><path d="M343.3 191.3l-0.85 3.6h1.7z" fill="#2a2a2a"/>
<g stroke="#6a6a6a" stroke-width="0.55" fill="none"><path d="M521.3 193.3v23.8"/><path d="M518.0 208.5c0.3 -1.6 1.5 -2.6 2 -1.6 c0.5 1 0.4 1.8 0.9 1.2 l1.6 -3.8" stroke-width="0.5"/><path d="M524.7 203.1l0.7 -0.4" stroke-width="0.6"/></g><path d="M521.3 191.9l-0.85 3.6h1.7z" fill="#2a2a2a"/>
<path d="M15.5 156.8V153.9H21.7V156.8H27.9V153.9H34.1V156.8H40.2V153.9H65.0V156.8H89.8V153.9H114.5V156.8" fill="none" stroke="#333" stroke-width="0.8"/><text class="s" x="15.5" y="165.5" text-anchor="middle">0</text><text class="s" x="27.9" y="165.5" text-anchor="middle">1.5</text><text class="s" x="40.2" y="165.5" text-anchor="middle">3</text><text class="s" x="65.0" y="165.5" text-anchor="middle">6</text><text class="s" x="89.8" y="165.5" text-anchor="middle">9</text><text class="s" x="114.5" y="165.5" text-anchor="middle">12</text><text class="s" x="115.7" y="157.2">Kms</text>
<path d="M193.0 156.4V153.5H199.2V156.4H205.4V153.5H211.6V156.4H217.8V153.5H242.5V156.4H267.2V153.5H292.0V156.4" fill="none" stroke="#333" stroke-width="0.8"/><text class="s" x="193.0" y="165.1" text-anchor="middle">0</text><text class="s" x="205.4" y="165.1" text-anchor="middle">1.5</text><text class="s" x="217.8" y="165.1" text-anchor="middle">3</text><text class="s" x="242.5" y="165.1" text-anchor="middle">6</text><text class="s" x="267.2" y="165.1" text-anchor="middle">9</text><text class="s" x="292.0" y="165.1" text-anchor="middle">12</text><text class="s" x="293.2" y="156.8">Kms</text>
<path d="M369.4 156.8V153.9H375.6V156.8H381.8V153.9H388.0V156.8H394.1V153.9H418.9V156.8H443.6V153.9H468.4V156.8" fill="none" stroke="#333" stroke-width="0.8"/><text class="s" x="369.4" y="165.5" text-anchor="middle">0</text><text class="s" x="381.8" y="165.5" text-anchor="middle">1.5</text><text class="s" x="394.1" y="165.5" text-anchor="middle">3</text><text class="s" x="418.9" y="165.5" text-anchor="middle">6</text><text class="s" x="443.6" y="165.5" text-anchor="middle">9</text><text class="s" x="468.4" y="165.5" text-anchor="middle">12</text><text class="s" x="469.6" y="157.2">Kms</text>
<path d="M17.3 327.7V324.8H23.5V327.7H29.7V324.8H35.9V327.7H42.0V324.8H66.8V327.7H91.5V324.8H116.3V327.7" fill="none" stroke="#333" stroke-width="0.8"/><text class="s" x="17.3" y="336.4" text-anchor="middle">0</text><text class="s" x="29.7" y="336.4" text-anchor="middle">1.5</text><text class="s" x="42.0" y="336.4" text-anchor="middle">3</text><text class="s" x="66.8" y="336.4" text-anchor="middle">6</text><text class="s" x="91.5" y="336.4" text-anchor="middle">9</text><text class="s" x="116.3" y="336.4" text-anchor="middle">12</text><text class="s" x="117.5" y="328.1">Kms</text>
<path d="M191.0 327.9V325.0H197.2V327.9H203.4V325.0H209.6V327.9H215.8V325.0H240.5V327.9H265.2V325.0H290.0V327.9" fill="none" stroke="#333" stroke-width="0.8"/><text class="s" x="191.0" y="336.6" text-anchor="middle">0</text><text class="s" x="203.4" y="336.6" text-anchor="middle">1.5</text><text class="s" x="215.8" y="336.6" text-anchor="middle">3</text><text class="s" x="240.5" y="336.6" text-anchor="middle">6</text><text class="s" x="265.2" y="336.6" text-anchor="middle">9</text><text class="s" x="290.0" y="336.6" text-anchor="middle">12</text><text class="s" x="291.2" y="328.3">Kms</text>
<path d="M370.4 328.4V325.5H376.6V328.4H382.8V325.5H389.0V328.4H395.1V325.5H419.9V328.4H444.6V325.5H469.4V328.4" fill="none" stroke="#333" stroke-width="0.8"/><text class="s" x="370.4" y="337.1" text-anchor="middle">0</text><text class="s" x="382.8" y="337.1" text-anchor="middle">1.5</text><text class="s" x="395.1" y="337.1" text-anchor="middle">3</text><text class="s" x="419.9" y="337.1" text-anchor="middle">6</text><text class="s" x="444.6" y="337.1" text-anchor="middle">9</text><text class="s" x="469.4" y="337.1" text-anchor="middle">12</text><text class="s" x="470.6" y="328.8">Kms</text>
<text class="t" x="130.4" y="83.1" text-anchor="start" style="font-size:8.15px">Elevation (m)</text><rect x="130.3" y="87.9" width="6.3" height="2.8" fill="#2dd20c" stroke="#5a64c0" stroke-width="0.65"/><text class="l" x="138.8" y="91.3">2007 - 2041</text><rect x="130.3" y="95.6" width="6.3" height="2.8" fill="#4ef20c" stroke="#5a64c0" stroke-width="0.65"/><text class="l" x="138.8" y="99.0">2042 - 2078</text><rect x="130.3" y="103.3" width="6.3" height="2.8" fill="#7afc16" stroke="#5a64c0" stroke-width="0.65"/><text class="l" x="138.8" y="106.7">2079 - 2117</text><rect x="130.3" y="111.0" width="6.3" height="2.8" fill="#affc26" stroke="#5a64c0" stroke-width="0.65"/><text class="l" x="138.8" y="114.4">2118 - 2159</text><rect x="130.3" y="118.7" width="6.3" height="2.8" fill="#ebfa14" stroke="#5a64c0" stroke-width="0.65"/><text class="l" x="138.8" y="122.1">2160 - 2203</text><rect x="130.3" y="126.4" width="6.3" height="2.8" fill="#ffc814" stroke="#5a64c0" stroke-width="0.65"/><text class="l" x="138.8" y="129.8">2204 - 2248</text><rect x="130.3" y="134.1" width="6.3" height="2.8" fill="#ff8c0a" stroke="#5a64c0" stroke-width="0.65"/><text class="l" x="138.8" y="137.5">2249 - 2299</text><rect x="130.3" y="141.8" width="6.3" height="2.8" fill="#fa460f" stroke="#5a64c0" stroke-width="0.65"/><text class="l" x="138.8" y="145.2">2300 - 2361</text><rect x="130.3" y="149.5" width="6.3" height="2.8" fill="#fa140f" stroke="#5a64c0" stroke-width="0.65"/><text class="l" x="138.8" y="152.9">2362 - 2458</text>
<text class="t" x="305.6" y="83.8" text-anchor="start">Slope (%)</text><rect x="305.5" y="88.7" width="6.3" height="2.8" fill="#2d76eb" stroke="#5a64c0" stroke-width="0.65"/><text class="l" x="314.0" y="92.1">0 - 4</text><rect x="305.5" y="96.4" width="6.3" height="2.8" fill="#5aa0de" stroke="#5a64c0" stroke-width="0.65"/><text class="l" x="314.0" y="99.8">5 - 8</text><rect x="305.5" y="104.1" width="6.3" height="2.8" fill="#91c6c3" stroke="#5a64c0" stroke-width="0.65"/><text class="l" x="314.0" y="107.5">9 - 12</text><rect x="305.5" y="111.9" width="6.3" height="2.8" fill="#b9deac" stroke="#5a64c0" stroke-width="0.65"/><text class="l" x="314.0" y="115.3">13 - 16</text><rect x="305.5" y="119.6" width="6.3" height="2.8" fill="#e6f096" stroke="#5a64c0" stroke-width="0.65"/><text class="l" x="314.0" y="123.0">17 - 21</text><rect x="305.5" y="127.3" width="6.3" height="2.8" fill="#facd82" stroke="#5a64c0" stroke-width="0.65"/><text class="l" x="314.0" y="130.7">22 - 26</text><rect x="305.5" y="135.0" width="6.3" height="2.8" fill="#fa965a" stroke="#5a64c0" stroke-width="0.65"/><text class="l" x="314.0" y="138.4">27 - 33</text><rect x="305.5" y="142.7" width="6.3" height="2.8" fill="#f55037" stroke="#5a64c0" stroke-width="0.65"/><text class="l" x="314.0" y="146.1">34 - 42</text><rect x="305.5" y="150.5" width="6.3" height="2.8" fill="#f0191e" stroke="#5a64c0" stroke-width="0.65"/><text class="l" x="314.0" y="153.9">43 - 63</text>
<text class="t" x="501" y="83.4" text-anchor="middle">Population</text><text class="t" x="501" y="93.1" text-anchor="middle">(p/km.sq)</text><rect x="483.7" y="97.0" width="6.3" height="2.8" fill="#dcfa6e" stroke="#5a64c0" stroke-width="0.65"/><text class="l" x="492.2" y="100.4">472 - 488</text><rect x="483.7" y="104.2" width="6.3" height="2.8" fill="#e4fa3c" stroke="#5a64c0" stroke-width="0.65"/><text class="l" x="492.2" y="107.6">489 - 498</text><rect x="483.7" y="111.5" width="6.3" height="2.8" fill="#f0fa1e" stroke="#5a64c0" stroke-width="0.65"/><text class="l" x="492.2" y="114.9">499 - 507</text><rect x="483.7" y="118.7" width="6.3" height="2.8" fill="#ff8214" stroke="#5a64c0" stroke-width="0.65"/><text class="l" x="492.2" y="122.1">508 - 516</text><rect x="483.7" y="126.0" width="6.3" height="2.8" fill="#fa1414" stroke="#5a64c0" stroke-width="0.65"/><text class="l" x="492.2" y="129.4">517 - 527</text><rect x="483.7" y="133.2" width="6.3" height="2.8" fill="#ee28f5" stroke="#5a64c0" stroke-width="0.65"/><text class="l" x="492.2" y="136.6">528 - 537</text><rect x="483.7" y="140.4" width="6.3" height="2.8" fill="#7d1efa" stroke="#5a64c0" stroke-width="0.65"/><text class="l" x="492.2" y="143.8">538 - 547</text><rect x="483.7" y="147.7" width="6.3" height="2.8" fill="#4420fa" stroke="#5a64c0" stroke-width="0.65"/><text class="l" x="492.2" y="151.1">548 - 559</text><rect x="483.7" y="154.9" width="6.3" height="2.8" fill="#0f1efa" stroke="#5a64c0" stroke-width="0.65"/><text class="l" x="492.2" y="158.3">560 - 570</text>
<text class="t" x="127" y="254.9" text-anchor="start">Soil</text><rect x="127" y="260.1" width="6.3" height="2.8" fill="#f0921a" stroke="none" stroke-width="0.65"/><text class="l" x="135.5" y="263.5">Clay</text><rect x="127" y="267.9" width="6.3" height="2.8" fill="#f0c8ac" stroke="none" stroke-width="0.65"/><text class="l" x="135.5" y="271.3">Clay loam</text><rect x="127" y="275.7" width="6.3" height="2.8" fill="#c9673a" stroke="none" stroke-width="0.65"/><text class="l" x="135.5" y="279.1">Sandy clay loam</text>
<text class="t" x="325.5" y="254.0" text-anchor="middle">Distance to</text><text class="t" x="325.5" y="263.7" text-anchor="middle">road (m)</text><rect x="306.5" y="268.1" width="6.3" height="2.8" fill="#f8b0c8" stroke="#5a64c0" stroke-width="0.65"/><text class="l" x="315.0" y="271.5">0 - 1209</text><rect x="306.5" y="275.9" width="6.3" height="2.8" fill="#f598b0" stroke="#5a64c0" stroke-width="0.65"/><text class="l" x="315.0" y="279.2">1210 - 2418</text><rect x="306.5" y="283.6" width="6.3" height="2.8" fill="#f57f96" stroke="#5a64c0" stroke-width="0.65"/><text class="l" x="315.0" y="287.0">2419 - 3627</text><rect x="306.5" y="291.4" width="6.3" height="2.8" fill="#f5667c" stroke="#5a64c0" stroke-width="0.65"/><text class="l" x="315.0" y="294.8">3628 - 4836</text><rect x="306.5" y="299.1" width="6.3" height="2.8" fill="#f54e62" stroke="#5a64c0" stroke-width="0.65"/><text class="l" x="315.0" y="302.5">4837 - 6045</text><rect x="306.5" y="306.9" width="6.3" height="2.8" fill="#f53846" stroke="#5a64c0" stroke-width="0.65"/><text class="l" x="315.0" y="310.2">6046 - 7254</text><rect x="306.5" y="314.6" width="6.3" height="2.8" fill="#f8262e" stroke="#5a64c0" stroke-width="0.65"/><text class="l" x="315.0" y="318.0">7255 - 8463</text><rect x="306.5" y="322.4" width="6.3" height="2.8" fill="#fa1418" stroke="#5a64c0" stroke-width="0.65"/><text class="l" x="315.0" y="325.8">8464 - 9672</text><rect x="306.5" y="330.1" width="6.3" height="2.8" fill="#fa0505" stroke="#5a64c0" stroke-width="0.65"/><text class="l" x="315.0" y="333.5">9673 - 10881</text>
<text class="t" x="503" y="257.3" text-anchor="middle">Distance to</text><text class="t" x="503" y="267.0" text-anchor="middle">town (m)</text><rect x="484.4" y="271.8" width="6.3" height="2.8" fill="#2870eb" stroke="#5a64c0" stroke-width="0.65"/><text class="l" x="492.9" y="275.2">0 - 1900</text><rect x="484.4" y="279.2" width="6.3" height="2.8" fill="#4a8cd6" stroke="#5a64c0" stroke-width="0.65"/><text class="l" x="492.9" y="282.6">1901 - 3778</text><rect x="484.4" y="286.7" width="6.3" height="2.8" fill="#7aaab6" stroke="#5a64c0" stroke-width="0.65"/><text class="l" x="492.9" y="290.1">3779 - 5543</text><rect x="484.4" y="294.1" width="6.3" height="2.8" fill="#b2d8ac" stroke="#5a64c0" stroke-width="0.65"/><text class="l" x="492.9" y="297.5">5544 - 7205</text><rect x="484.4" y="301.5" width="6.3" height="2.8" fill="#f0f596" stroke="#5a64c0" stroke-width="0.65"/><text class="l" x="492.9" y="304.9">7206 - 8819</text><rect x="484.4" y="308.9" width="6.3" height="2.8" fill="#f8b878" stroke="#5a64c0" stroke-width="0.65"/><text class="l" x="492.9" y="312.3">8820 - 10563</text><rect x="484.4" y="316.4" width="6.3" height="2.8" fill="#ee7858" stroke="#5a64c0" stroke-width="0.65"/><text class="l" x="492.9" y="319.8">10564 - 12693</text><rect x="484.4" y="323.8" width="6.3" height="2.8" fill="#e63c32" stroke="#5a64c0" stroke-width="0.65"/><text class="l" x="492.9" y="327.2">12694 - 15113</text><rect x="484.4" y="331.2" width="6.3" height="2.8" fill="#e60a14" stroke="#5a64c0" stroke-width="0.65"/><text class="l" x="492.9" y="334.6">15114 - 18095</text>
</svg></body></html>
